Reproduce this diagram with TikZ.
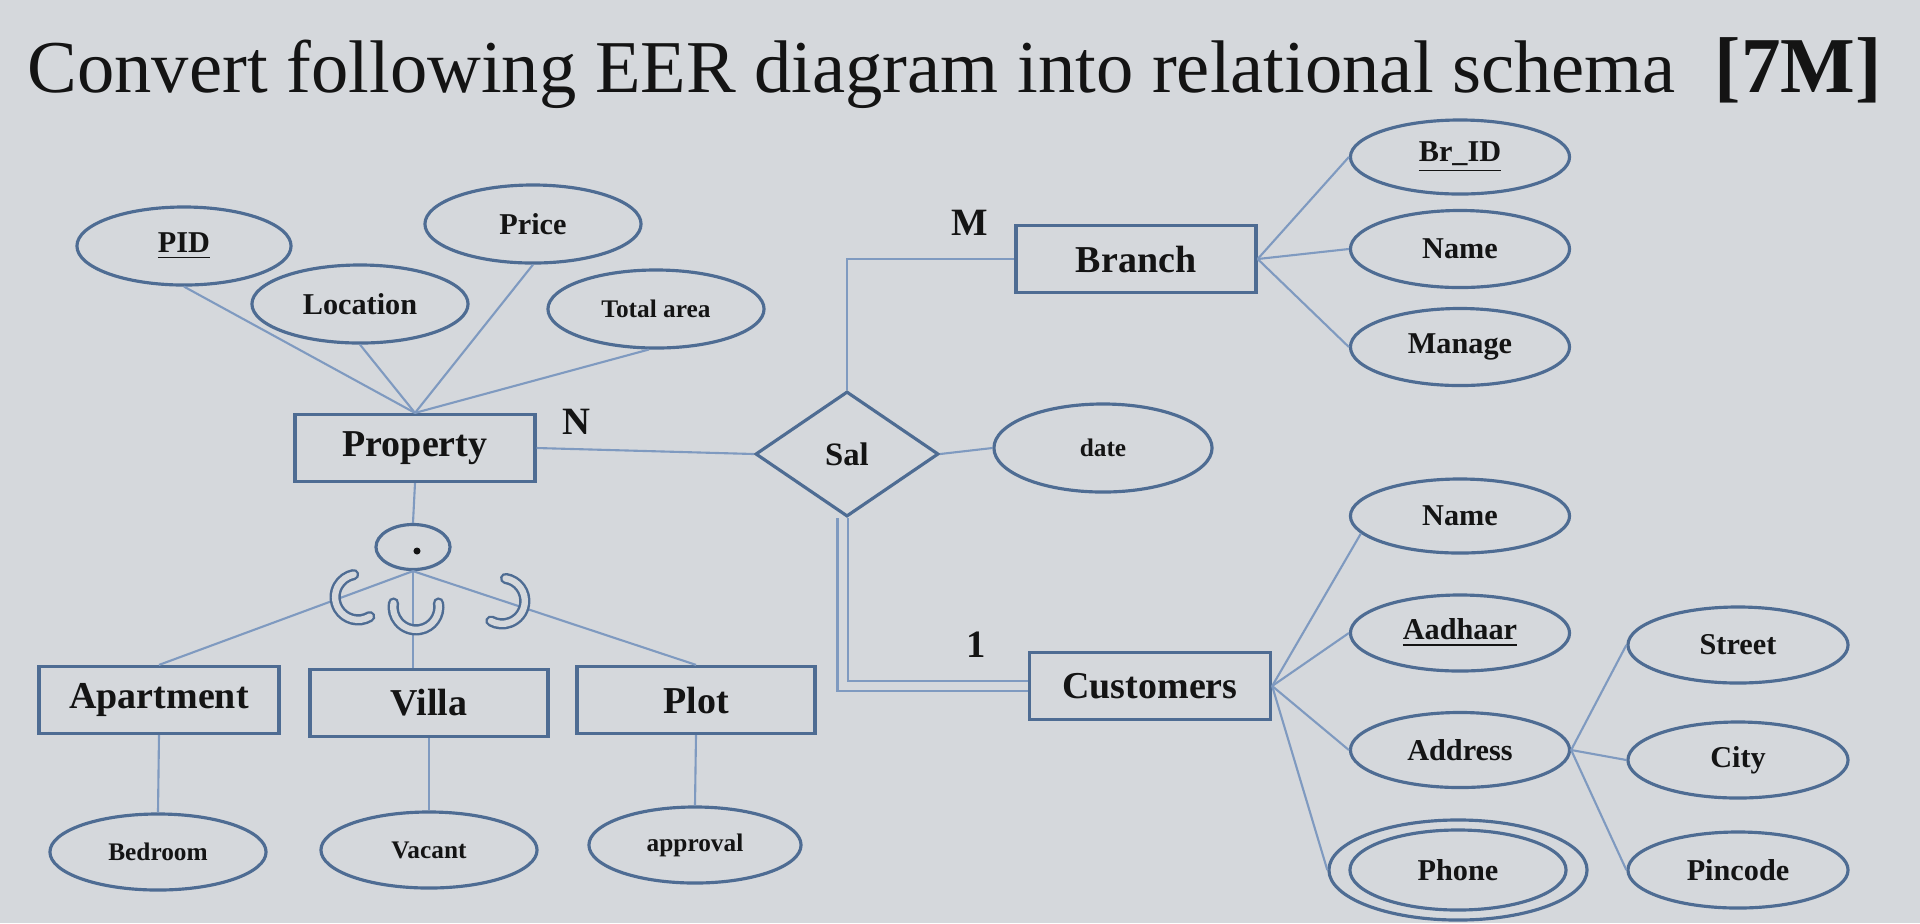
\documentclass[tikz,border=0pt]{standalone}
\usepackage{fontspec}
\setmainfont{Liberation Serif}
\usetikzlibrary{shapes.geometric,calc}
\definecolor{bg}{HTML}{D5D8DC}
\definecolor{ol}{HTML}{4E6C93}
\definecolor{cn}{HTML}{7F9AC0}
\definecolor{tx}{HTML}{141414}
\newcommand{\entfnt}{\fontsize{10.8}{12}\selectfont\bfseries}
\newcommand{\attfnt}{\fontsize{8.6}{10}\selectfont\bfseries}
\newcommand{\sattfnt}{\fontsize{7.2}{9}\selectfont\bfseries}
\newcommand{\cardfnt}{\fontsize{11}{12}\selectfont\bfseries}
\tikzset{
  entbox/.style={draw=ol, line width=0.9pt, minimum width=2.4cm, minimum height=0.67cm, inner sep=0pt, font=\entfnt, text=tx},
  attr/.style={ellipse, draw=ol, line width=0.9pt, minimum width=2.16cm, minimum height=0.77cm, inner sep=0pt, font=\attfnt, text=tx},
  sattr/.style={attr, font=\sattfnt},
  relbox/.style={diamond, draw=ol, line width=0.9pt, minimum width=1.83cm, minimum height=1.25cm, inner sep=0pt, font=\fontsize{9.3}{11}\selectfont\bfseries, text=tx},
  con/.style={draw=cn, line width=0.6pt},
  dcon/.style={draw=cn, line width=0.6pt, double=bg, double distance=2.4pt},
  card/.style={font=\cardfnt, text=tx, inner sep=0pt},
  cres/.style={draw=ol, line width=0.7pt, double=bg, double distance=1.8pt, line cap=round}
}
\begin{document}
\begin{tikzpicture}[x=0.01cm,y=-0.01cm]
\fill[bg] (0,0) rectangle (1920,923);
\useasboundingbox (0,0) rectangle (1920,923);
% title
\node[anchor=base west, inner sep=0pt, font=\fontsize{21.2}{24}\selectfont, text=tx] (title) at (27,92) {Convert following EER diagram into relational schema};
\node[anchor=base west, inner sep=0pt, font=\fontsize{22.5}{24}\selectfont\bfseries, text=tx] (marks) at (1714,92) {[7M]};
% entities
\node[entbox] (prop) at (415,448) {Property};
\node[entbox] (branch) at (1136,259) {Branch};
\node[entbox, minimum width=2.41cm] (cust) at (1150,686) {Customers};
\node[entbox] (apt) at (159,700) {Apartment};
\node[entbox, minimum width=2.38cm] (villa) at (429,703) {Villa};
\node[entbox, minimum width=2.38cm] (plot) at (696,700) {Plot};
% relationship
\node[relbox] (sal) at (847,454) {Sal};
% attributes
\node[attr, minimum width=2.14cm, minimum height=0.78cm] (pid) at (184,246) {\underline{PID}};
\node[attr, minimum height=0.78cm] (price) at (533,224) {Price};
\node[attr, minimum height=0.78cm] (loc) at (360,304) {Location};
\node[sattr, minimum height=0.78cm] (area) at (656,309) {Total area};
\node[sattr, minimum width=2.18cm, minimum height=0.88cm] (date) at (1103,448) {date};
\node[attr, minimum width=2.19cm, minimum height=0.74cm] (brid) at (1460,157) {\underline{Br\_ID}};
\node[attr, minimum width=2.19cm] (nameb) at (1460,249) {Name};
\node[attr, minimum width=2.19cm] (manage) at (1460,347) {Manage};
\node[attr, minimum width=2.19cm, minimum height=0.74cm] (namec) at (1460,516) {Name};
\node[attr, minimum width=2.19cm, minimum height=0.76cm] (aadhaar) at (1460,633) {\underline{Aadhaar}};
\node[attr, minimum width=2.19cm, minimum height=0.75cm] (address) at (1460,750) {Address};
\node[ellipse, draw=ol, line width=0.9pt, minimum width=2.58cm, minimum height=1.0cm, inner sep=0pt] (phoneo) at (1458,870) {};
\node[attr, minimum width=2.16cm, minimum height=0.8cm] (phone) at (1458,870) {Phone};
\node[attr, minimum width=2.2cm, minimum height=0.76cm] (street) at (1738,645) {Street};
\node[attr, minimum width=2.2cm, minimum height=0.76cm] (city) at (1738,760) {City};
\node[attr, minimum width=2.2cm, minimum height=0.76cm] (pin) at (1738,870) {Pincode};
\node[sattr, minimum height=0.76cm] (bed) at (158,852) {Bedroom};
\node[sattr, minimum height=0.76cm] (vacant) at (429,850) {Vacant};
\node[sattr, minimum width=2.12cm, minimum height=0.76cm] (appr) at (695,845) {approval};
% specialization circle
\node[ellipse, draw=ol, line width=0.9pt, minimum width=0.74cm, minimum height=0.45cm, inner sep=0pt] (spec) at (413,547) {};
% cardinalities
\node[card] (cn) at (576,422) {N};
\node[card] (cm) at (970,223) {M};
\node[card] (c1) at (976,645) {1};
% connectors
\draw[con] (pid.south) -- (prop.north);
\draw[con] (loc.south) -- (prop.north);
\draw[con] (price.south) -- (prop.north);
\draw[con] (area.260) -- (prop.north);
\draw[con] (prop.east) -- (sal.west);
\draw[con] (sal.north) |- (branch.west);
\draw[dcon] ([xshift=-1.2pt]sal.south) |- (cust.west);
\draw[con] (sal.east) -- (date.west);
\draw[con] (branch.east) -- (brid.west);
\draw[con] (branch.east) -- (nameb.west);
\draw[con] (branch.east) -- (manage.west);
\draw[con] (cust.east) -- (namec.190);
\draw[con] (cust.east) -- (aadhaar.west);
\draw[con] (cust.east) -- (address.west);
\draw[con] (cust.east) -- (phoneo.west);
\draw[con] (address.east) -- (street.west);
\draw[con] (address.east) -- (city.west);
\draw[con] (address.east) -- (pin.west);
\draw[con] (prop.south) -- (spec.north);
\draw[con] (spec.south) -- (apt.north);
\draw[con] (spec.south) -- (spec.south |- villa.north);
\draw[con] (spec.south) -- (plot.north);
\draw[con] (apt.south) -- (bed.north);
\draw[con] (villa.south) -- (vacant.north);
\draw[con] (plot.south) -- (appr.north);
% dot in specialization circle
\fill[tx] (417,551) circle[radius=1pt];
% subset symbols
\coordinate (crl) at (358,597);
\coordinate (crm) at (416,607);
\coordinate (crr) at (502,601);
\draw[cres] (crl) ++(301:6.5pt) arc[start angle=301, end angle=101, radius=6.5pt];
\draw[cres] (crm) ++(370:6.5pt) arc[start angle=370, end angle=170, radius=6.5pt];
\draw[cres] (crr) ++(81:6.5pt) arc[start angle=81, end angle=-119, radius=6.5pt];
\end{tikzpicture}
\end{document}
